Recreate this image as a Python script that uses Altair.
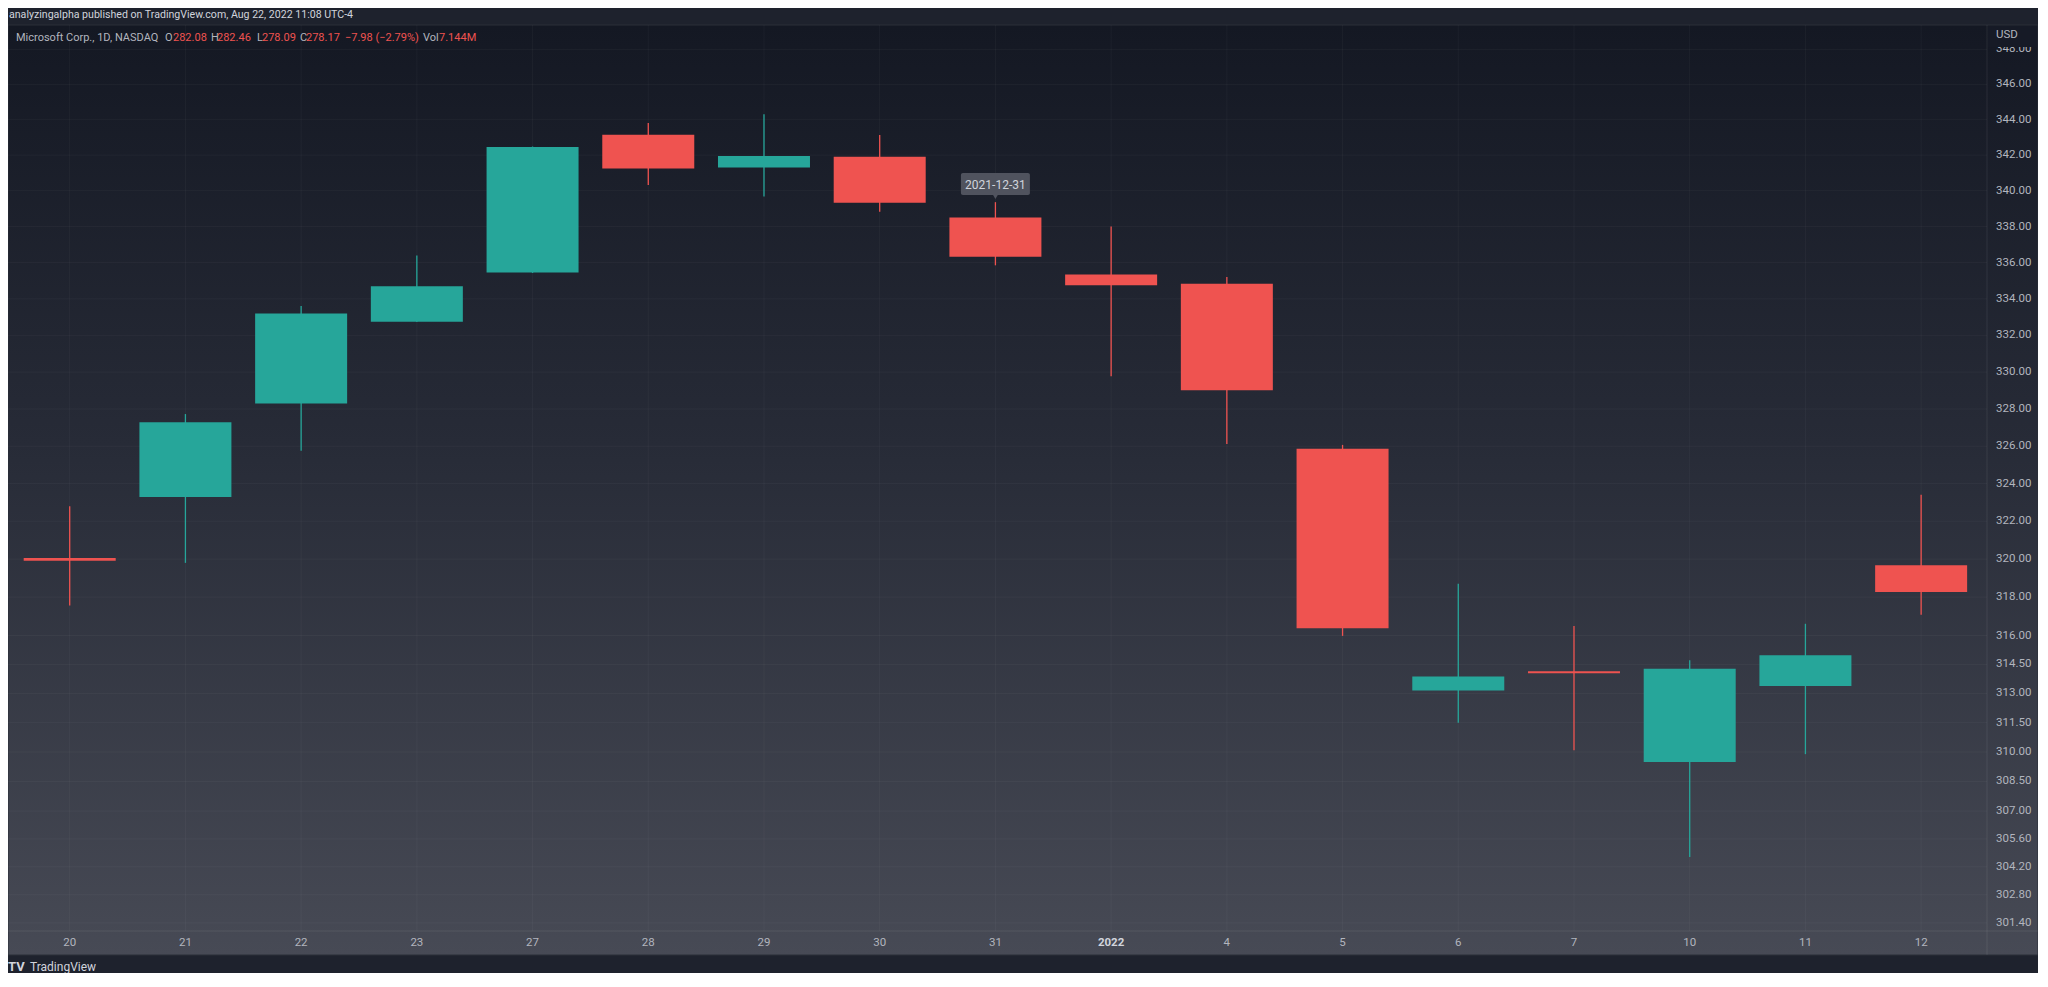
import altair as alt
import numpy as np
import pandas as pd

# ---------------- data ----------------
day_labels = ["20", "21", "22", "23", "27", "28", "29", "30", "31", "2022",
              "4", "5", "6", "7", "10", "11", "12"]
opens = [320.05, 323.29, 328.30, 332.75, 335.46, 343.15, 341.30, 341.91, 338.51,
         335.35, 334.83, 325.86, 313.15, 314.15, 309.49, 313.38, 319.67]
highs = [322.80, 327.73, 333.61, 336.39, 342.48, 343.81, 344.30, 343.13, 339.36,
         338.00, 335.20, 326.07, 318.70, 316.50, 314.72, 316.61, 323.41]
lows = [317.57, 319.80, 325.75, 332.73, 335.43, 340.32, 339.68, 338.82, 335.85,
        329.78, 326.12, 315.98, 311.49, 310.09, 304.69, 309.89, 317.08]
closes = [319.91, 327.29, 333.20, 334.69, 342.45, 341.25, 341.95, 339.32, 336.32,
          334.75, 329.01, 316.38, 313.88, 314.04, 314.27, 314.98, 318.27]
price_ticks = [348, 346, 344, 342, 340, 338, 336, 334, 332, 330, 328, 326, 324,
               322, 320, 318, 316, 314.5, 313, 311.5, 310, 308.5, 307, 305.6,
               304.2, 302.8, 301.4]
crosshair_index = 8
crosshair_date = "2021-12-31"
publisher_line = "analyzingalpha published on TradingView.com, Aug 22, 2022 11:08 UTC-4"
legend_texts = ["Microsoft Corp., 1D, NASDAQ", "O", "282.08", "H", "282.46", "L",
                "278.09", "C", "278.17", "\u22127.98 (\u22122.79%)", "Vol", "7.144M"]
legend_is_value = [False, False, True, False, True, False, True, False, True, True, False, True]
currency = "USD"

# ---------------- styles ----------------
GREEN = "#26a69a"
RED = "#ef5350"
TXT = "#b2b5be"
TXT_LIGHT = "#d1d4dc"
FONT = "Roboto"
W, H = 1979, 906          # plot area
PANEL_W, PANEL_H = 2030, 930
legend_x = [8, 157, 165, 203, 209, 249, 254, 292, 298, 337, 415, 431]

df = pd.DataFrame({
    "idx": list(range(len(day_labels))),
    "label": day_labels,
    "open": opens, "high": highs, "low": lows, "close": closes,
})
df["dir"] = np.where(df["close"] >= df["open"], "up", "down")
df["is_year"] = df["label"].str.len() == 4

ticks_df = pd.DataFrame({"v": price_ticks})
ticks_df["txt"] = [f"{v:.2f}" for v in price_ticks]

xscale = alt.Scale(domain=[-0.49, 16.526], nice=False, zero=False)
yscale = alt.Scale(type="log", domain=[301.0, 349.4], nice=False, zero=False)
color = alt.Color("dir:N", scale=alt.Scale(domain=["up", "down"], range=[GREEN, RED]),
                  legend=None)
X = alt.X("idx:Q", scale=xscale, axis=None)

one = pd.DataFrame({"a": [0]})

bg = alt.Chart(one).mark_rect(
    fill=alt.Gradient(gradient="linear",
                      stops=[alt.GradientStop(color="#141823", offset=0),
                             alt.GradientStop(color="#272b37", offset=0.45),
                             alt.GradientStop(color="#474a55", offset=1)],
                      x1=0, x2=0, y1=0, y2=1),
    stroke="#2a2e39", strokeWidth=1,
).encode(x=alt.value(0), x2=alt.value(PANEL_W), y=alt.value(0), y2=alt.value(PANEL_H))

hgrid = alt.Chart(ticks_df).mark_rule(color="#ffffff", opacity=0.035, strokeWidth=1).encode(
    y=alt.Y("v:Q", scale=yscale, axis=None), x=alt.value(0), x2=alt.value(W))

vgrid = alt.Chart(df).mark_rule(color="#ffffff", opacity=0.035, strokeWidth=1).encode(
    x=X, y=alt.value(0), y2=alt.value(H))

sep_v = alt.Chart(one).mark_rule(color="#ffffff", opacity=0.08, strokeWidth=1).encode(
    x=alt.value(W), y=alt.value(0), y2=alt.value(PANEL_H))
sep_h = alt.Chart(one).mark_rule(color="#ffffff", opacity=0.08, strokeWidth=1).encode(
    y=alt.value(H), x=alt.value(0), x2=alt.value(PANEL_W))

wick = alt.Chart(df).mark_rule(strokeWidth=1.3).encode(
    x=X, y=alt.Y("low:Q", scale=yscale, axis=None), y2="high:Q", color=color)

body = alt.Chart(df).mark_bar(size=92).encode(
    x=X, y=alt.Y("open:Q", scale=yscale, axis=None), y2="close:Q", color=color)

# price labels (right strip)
ylabels = alt.Chart(ticks_df).mark_text(
    color=TXT, font=FONT, fontSize=11.5, align="left", baseline="middle"
).encode(y=alt.Y("v:Q", scale=yscale, axis=None), x=alt.value(W + 9), text="txt:N")

usd_box = alt.Chart(one).mark_rect(color="#161a26").encode(
    x=alt.value(W + 1), x2=alt.value(PANEL_W - 1), y=alt.value(1), y2=alt.value(22))
usd_text = alt.Chart(one).mark_text(text=currency, color=TXT, font=FONT, fontSize=11.5,
                                    align="left", baseline="middle").encode(
    x=alt.value(W + 9), y=alt.value(10))

# date labels (bottom strip)
xlabels = alt.Chart(df).transform_filter("!datum.is_year").mark_text(
    font=FONT, fontSize=11.5, baseline="middle", color=TXT
).encode(x=X, y=alt.value(H + 12), text="label:N")
xlabels_year = alt.Chart(df).transform_filter("datum.is_year").mark_text(
    font=FONT, fontSize=11.5, baseline="middle", color=TXT_LIGHT, fontWeight="bold"
).encode(x=X, y=alt.value(H + 12), text="label:N")

tip_df = pd.DataFrame({"idx": [crosshair_index], "text": [crosshair_date]})
tip_box = alt.Chart(tip_df).mark_bar(size=69, color="#50535e", cornerRadius=2).encode(
    x=X, y=alt.value(148), y2=alt.value(170))
tip_arrow = alt.Chart(tip_df).mark_point(shape="triangle-down", filled=True, size=22,
                                         color="#50535e", opacity=1).encode(
    x=X, y=alt.value(172))
tip_text = alt.Chart(tip_df).mark_text(color=TXT_LIGHT, font=FONT, fontSize=12,
                                       baseline="middle").encode(
    x=X, y=alt.value(159.5), text="text:N")

texts = []
texts.append(alt.Chart(one).mark_text(text=publisher_line, color=TXT_LIGHT, font=FONT,
                                      fontSize=10.6, align="left", baseline="middle").encode(
    x=alt.value(1), y=alt.value(-10)))
for t, xv, isval in zip(legend_texts, legend_x, legend_is_value):
    texts.append(alt.Chart(one).mark_text(text=t, color=RED if isval else TXT, font=FONT,
                                          fontSize=11, align="left", baseline="middle").encode(
        x=alt.value(xv), y=alt.value(13)))
texts.append(alt.Chart(one).mark_text(text="TV", color=TXT_LIGHT, font=FONT, fontSize=13,
                                      fontWeight="bold", align="left", baseline="middle").encode(
    x=alt.value(0), y=alt.value(942)))
texts.append(alt.Chart(one).mark_text(text="TradingView", color=TXT_LIGHT, font=FONT,
                                      fontSize=12, align="left", baseline="middle").encode(
    x=alt.value(22), y=alt.value(942)))

chart = alt.layer(
    bg, hgrid, vgrid, sep_v, sep_h, wick, body, ylabels, usd_box, usd_text,
    xlabels, xlabels_year, tip_box, tip_arrow, tip_text, *texts
).properties(
    width=W, height=H,
    autosize=alt.AutoSizeParams(type="none"),
    padding={"left": 0, "top": 17, "right": 51, "bottom": 42},
    background="#1e222d",
).configure_view(stroke=None)

chart.save("out.html", embed_options={"renderer": "svg", "actions": False})
